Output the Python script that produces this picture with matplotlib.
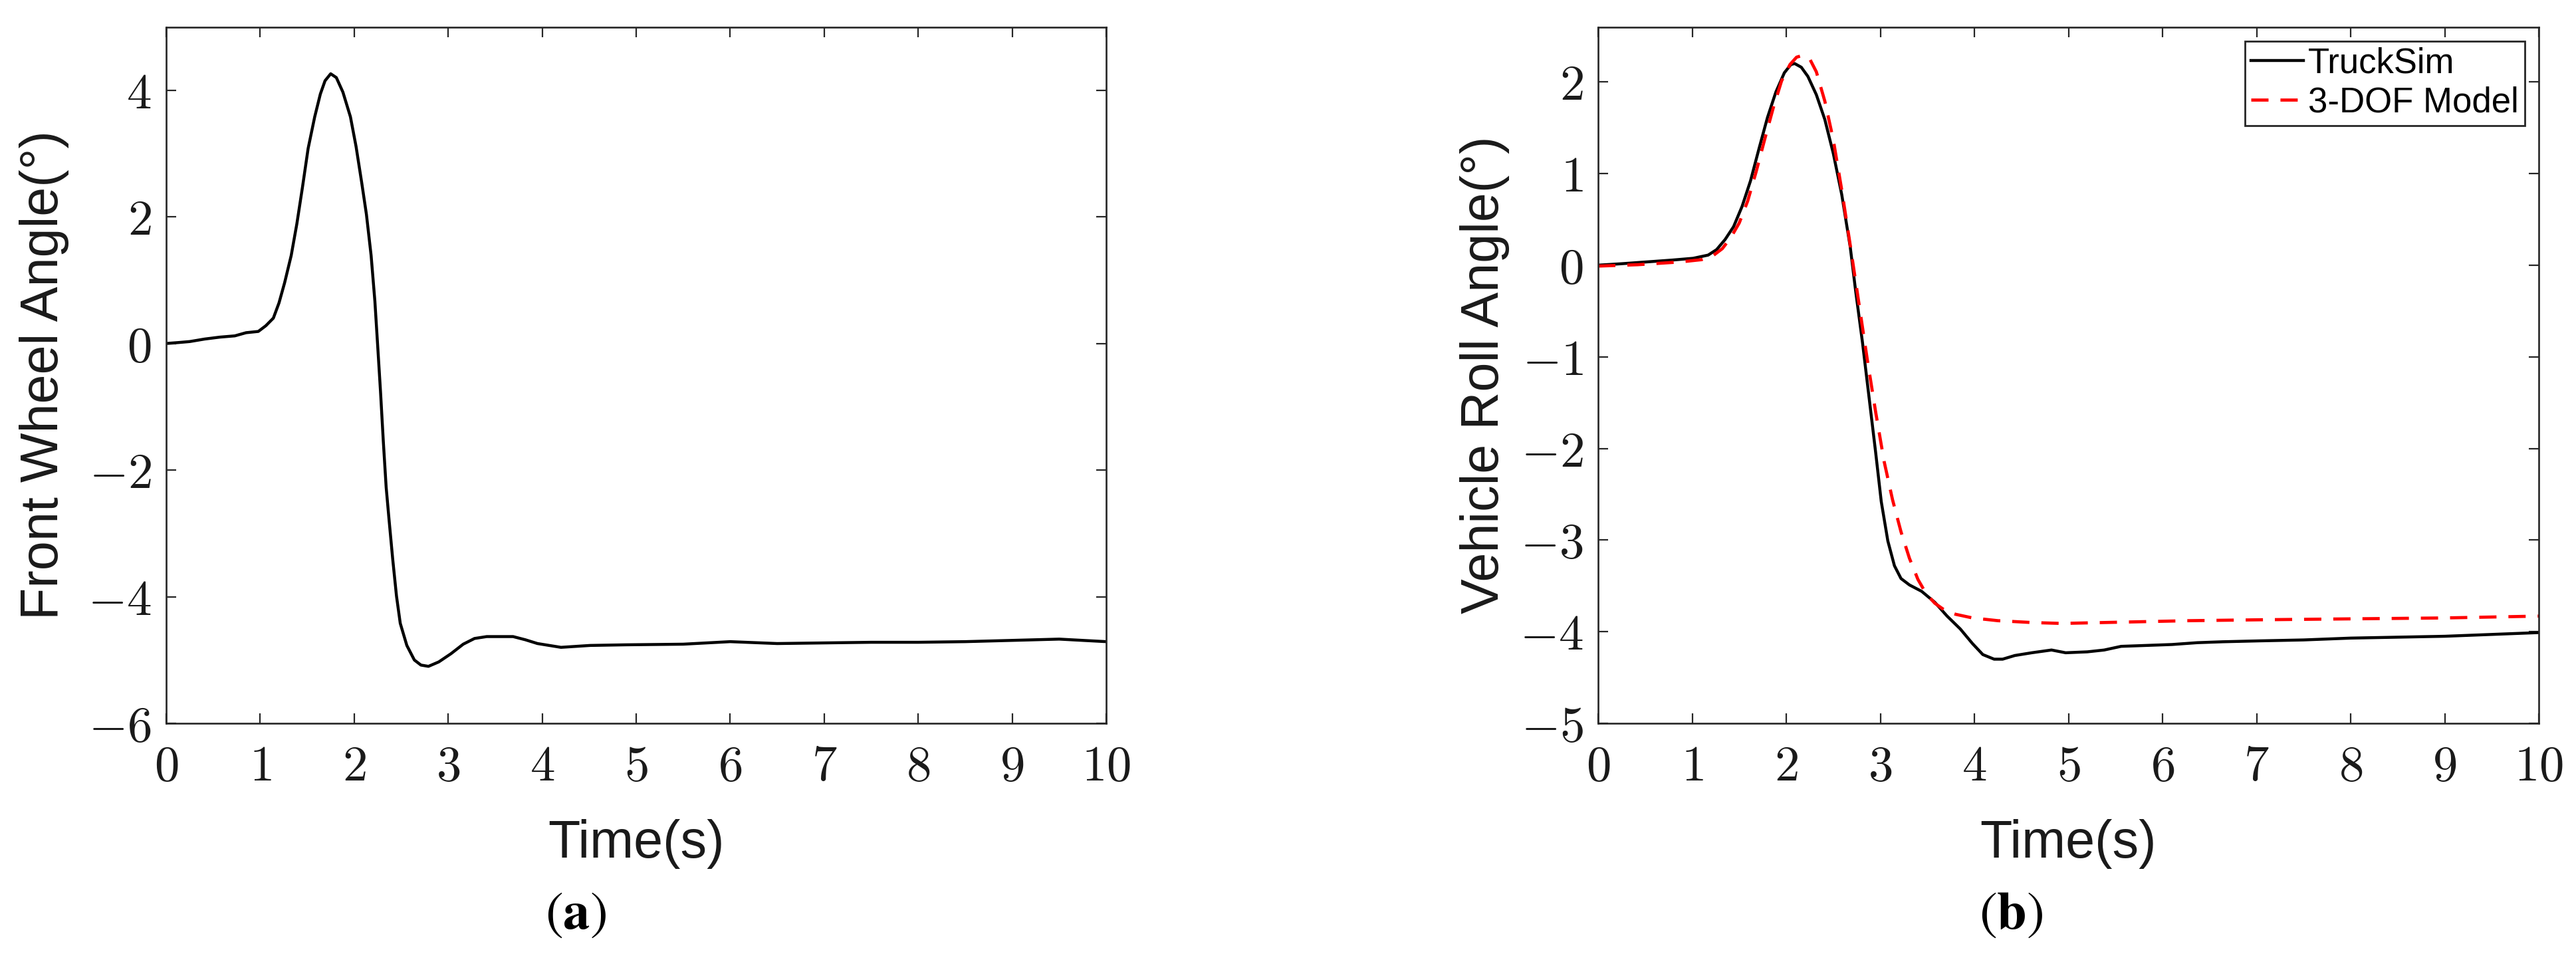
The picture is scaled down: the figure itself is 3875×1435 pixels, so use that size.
import matplotlib
matplotlib.use("Agg")
import matplotlib.pyplot as plt
from matplotlib.ticker import FuncFormatter, MultipleLocator

# ---------------- data ----------------
# (a) Front wheel angle
t_front = [0.00, 0.125, 0.25, 0.41, 0.57, 0.73, 0.85, 0.98, 1.06, 1.14, 1.20, 1.26,
           1.33, 1.39, 1.45, 1.51, 1.58, 1.64, 1.69, 1.75, 1.81, 1.88, 1.96, 2.02,
           2.08, 2.13, 2.18, 2.22, 2.25, 2.28, 2.31, 2.34, 2.37, 2.41, 2.45, 2.49,
           2.56, 2.64, 2.71, 2.79, 2.90, 3.03, 3.16, 3.28, 3.41, 3.69, 3.82, 3.95,
           4.20, 4.51, 4.89, 5.50, 6.00, 6.50, 7.00, 7.50, 8.00, 8.50, 9.00, 9.50, 10.0]
v_front = [0.00, 0.014, 0.03, 0.07, 0.10, 0.12, 0.17, 0.19, 0.28, 0.40, 0.64, 0.96,
           1.39, 1.89, 2.47, 3.08, 3.58, 3.94, 4.15, 4.26, 4.20, 3.97, 3.58, 3.11,
           2.54, 2.04, 1.39, 0.67, -0.04, -0.76, -1.55, -2.27, -2.77, -3.41, -3.99, -4.42,
           -4.77, -5.00, -5.08, -5.10, -5.03, -4.90, -4.75, -4.66, -4.63, -4.63, -4.68, -4.74,
           -4.80, -4.77, -4.76, -4.75, -4.71, -4.74, -4.73, -4.72, -4.72, -4.71, -4.69, -4.67, -4.71]

# (b) Vehicle roll angle - TruckSim
t_truck = [0.00, 0.24, 0.51, 0.78, 1.01, 1.17, 1.26, 1.35, 1.44, 1.53, 1.62, 1.71,
           1.80, 1.89, 1.98, 2.05, 2.09, 2.16, 2.23, 2.32, 2.41, 2.50, 2.59, 2.68,
           2.74, 2.81, 2.88, 2.95, 3.01, 3.08, 3.15, 3.22, 3.31, 3.44, 3.58, 3.71,
           3.85, 3.98, 4.09, 4.21, 4.30, 4.43, 4.61, 4.82, 4.97, 5.20, 5.38, 5.56,
           5.83, 6.10, 6.37, 6.64, 7.04, 7.50, 8.00, 8.50, 9.00, 9.50, 10.0]
v_truck = [0.00, 0.015, 0.035, 0.055, 0.075, 0.11, 0.17, 0.28, 0.42, 0.64, 0.92, 1.27,
           1.61, 1.89, 2.10, 2.19, 2.20, 2.16, 2.06, 1.86, 1.59, 1.22, 0.77, 0.20,
           -0.30, -0.84, -1.44, -2.04, -2.58, -3.01, -3.28, -3.42, -3.49, -3.56, -3.68, -3.83,
           -3.97, -4.13, -4.25, -4.30, -4.30, -4.26, -4.23, -4.20, -4.23, -4.22, -4.20, -4.16,
           -4.15, -4.14, -4.12, -4.11, -4.10, -4.09, -4.07, -4.06, -4.05, -4.03, -4.01]

# (b) Vehicle roll angle - 3-DOF model
t_model = [0.00, 0.42, 0.87, 1.10, 1.23, 1.32, 1.41, 1.50, 1.59, 1.68, 1.77, 1.86,
           1.95, 2.04, 2.11, 2.18, 2.25, 2.32, 2.41, 2.50, 2.59, 2.68, 2.77, 2.86,
           2.95, 3.04, 3.13, 3.22, 3.31, 3.40, 3.49, 3.58, 3.69, 3.80, 3.98, 4.25,
           4.61, 4.93, 5.38, 5.83, 6.28, 7.04, 8.00, 9.00, 10.0]
v_model = [-0.01, 0.005, 0.035, 0.06, 0.11, 0.18, 0.30, 0.46, 0.70, 1.02, 1.37, 1.71,
           2.01, 2.19, 2.27, 2.29, 2.25, 2.11, 1.79, 1.37, 0.82, 0.22, -0.40, -1.02,
           -1.60, -2.14, -2.56, -2.91, -3.20, -3.43, -3.59, -3.69, -3.77, -3.81, -3.85, -3.88,
           -3.90, -3.91, -3.90, -3.89, -3.88, -3.87, -3.86, -3.85, -3.83]

x_ticks = list(range(0, 11))
y_ticks_a = [-6, -4, -2, 0, 2, 4]
y_ticks_b = [-5, -4, -3, -2, -1, 0, 1, 2]

# ---------------- styling ----------------
plt.rcParams['mathtext.fontset'] = 'cm'
plt.rcParams['font.family'] = ['Liberation Sans', 'DejaVu Sans']

W, H = 3875, 1435
DPI = 100
fig = plt.figure(figsize=(W / DPI, H / DPI), dpi=DPI)
fig.patch.set_facecolor('white')

AX_COL = '#262626'
TICK_FS = 54
LABEL_FS = 57
LEG_FS = 38
CAP_FS = 58

bottom = 1 - 1088 / H
height = (1088 - 40.5) / H
ax1 = fig.add_axes([250 / W, bottom, (1664 - 250) / W, height])
ax2 = fig.add_axes([2404 / W, bottom, (3819 - 2404) / W, height])

fmt = FuncFormatter(lambda v, p: f'${v:g}$')

for ax in (ax1, ax2):
    for s in ax.spines.values():
        s.set_linewidth(1.9)
        s.set_color(AX_COL)
    ax.set_xlim(0, 10)
    ax.set_xticks(x_ticks)
    ax.xaxis.set_major_formatter(fmt)
    ax.yaxis.set_major_formatter(fmt)
    ax.tick_params(which='both', direction='in', top=True, right=True,
                   length=11, width=1.6, color=AX_COL, labelcolor='#1a1a1a',
                   labelsize=TICK_FS)
    ax.tick_params(axis='x', pad=23)
    ax.tick_params(axis='y', pad=16)

# panel (a)
ax1.plot(t_front, v_front, color='black', lw=3.2, solid_joinstyle='round')
ax1.set_ylim(-6, 5)
ax1.set_yticks(y_ticks_a)
ax1.set_xlabel('Time(s)', fontsize=LABEL_FS, color='#1a1a1a')
ax1.set_ylabel('Front Wheel Angle(°)', fontsize=LABEL_FS, color='#1a1a1a')

# panel (b)
ax2.plot(t_truck, v_truck, color='black', lw=3.2, solid_joinstyle='round', label='TruckSim')
ax2.plot(t_model, v_model, color='#ff0000', lw=3.4, linestyle=(0, (5.5, 3.8)),
         label='3-DOF Model')
ax2.set_ylim(-5, 2.6)
ax2.set_yticks(y_ticks_b)
ax2.set_xlabel('Time(s)', fontsize=LABEL_FS, color='#1a1a1a')
ax2.set_ylabel('Vehicle Roll Angle(°)', fontsize=LABEL_FS, color='#1a1a1a')

leg = ax2.legend(loc='upper right', fontsize=LEG_FS, frameon=True, fancybox=False,
                 shadow=False, framealpha=1.0, edgecolor=AX_COL,
                 handlelength=1.5, handletextpad=0.13, borderpad=0.17,
                 labelspacing=0.17, borderaxespad=0.4)
leg.get_frame().set_linewidth(2.0)

# label positions
for ax, ylx in ((ax1, -0.1033), (ax2, -0.094)):
    ax.xaxis.label.set_va('baseline')
    ax.xaxis.set_label_coords(0.5, (1088 - 1290) / 1047.5)
    ax.yaxis.set_label_coords(ylx, 0.5)

# captions
fig.text(866 / W, 1 - 1397 / H, r'$\mathrm{(}\mathbf{a}\mathrm{)}$', fontsize=CAP_FS,
         ha='center', va='baseline', math_fontfamily='stix', color='black')
fig.text(3025 / W, 1 - 1397 / H, r'$\mathrm{(}\mathbf{b}\mathrm{)}$', fontsize=CAP_FS,
         ha='center', va='baseline', math_fontfamily='stix', color='black')

fig.savefig('out.png', dpi=DPI, facecolor='white')
